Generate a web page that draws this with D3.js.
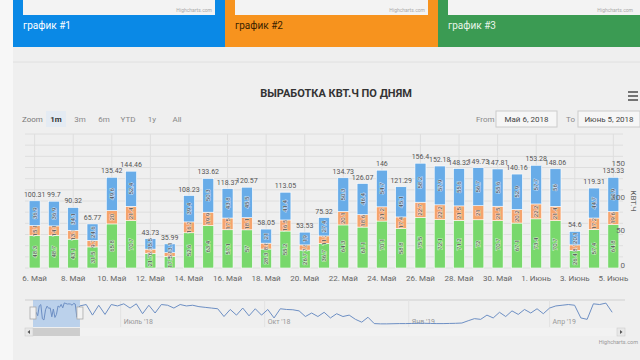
<!DOCTYPE html>
<html>
<head>
<meta charset="utf-8">
<script src="https://cdn.jsdelivr.net/npm/d3@7"></script>
<style>
body{margin:0;background:#f7f7f7;}
svg{display:block;font-family:"Liberation Sans Narrow","Roboto",sans-serif;}
</style>
</head>
<body>
<svg width="640" height="360"></svg>
<script>
var width = 640;
var height = 360;

// dates of the shown month
var days = ["6. Май","7. Май","8. Май","9. Май","10. Май","11. Май","12. Май","13. Май","14. Май","15. Май",
  "16. Май","17. Май","18. Май","19. Май","20. Май","21. Май","22. Май","23. Май","24. Май","25. Май",
  "26. Май","27. Май","28. Май","29. Май","30. Май","31. Май","1. Июнь","2. Июнь","3. Июнь","4. Июнь","5. Июнь"];

var green  = [48.3,48.7,43.1,31.5,65.8,70.7,21.7,17.5,52.6,63.4,57.1,57.0,28.3,55.2,26.7,36.7,64.3,61.1,70.1,58.8,
  75.5,72.1,71.2,72.0,70.7,67.1,73.4,70.7,26.4,57.4,64.8];
var orange = [15.1,14.1,13.1,9.7,20.0,21.4,6.5,5.4,16.2,19.9,17.5,18.1,8.8,16.5,7.8,11.2,20.1,18.6,21.2,17.4,
  22.7,22.2,21.5,21.0,21.5,20.2,22.2,21.4,8.1,17.2,19.6];
var blue   = [36.9,36.9,34.1,24.6,49.6,52.4,15.5,13.1,39.4,50.3,43.8,45.5,21.0,41.4,19.0,27.4,50.3,46.4,54.7,45.1,
  58.2,57.9,55.6,56.7,55.6,52.9,57.7,56.0,20.1,44.7,50.9];
var totals = ["100.31","99.7","90.32","65.77","135.42","144.46","43.73","35.99","108.23","133.62","118.37","120.57",
  "58.05","113.05","53.53","75.32","134.73","126.07","146","121.29","156.4","152.18","148.32","149.73","147.81",
  "140.16","153.28","148.06","54.6","119.31","135.33"];

var yTicks = [0,50,100,150];

// navigator: values after the selected month, one every 4 days
var navLater = [145,70,140,75,145,135,150,120,150,80,140,85,145,140,120,145,135,140,130,125,120,115,60,110,70,120,65,
  115,70,110,50,115,110,108,100,60,85,60,90,50,80,60,70,40,20,55,10,8,8,9,10,10,11,12,12,11,10,10,11,12,14,
  30,45,40,70,50,90,60,100,75,110,85,115,80,120,135,140,145,140,50,40,150,145,155,90];
var navLabels = ["Июль '18","Окт '18","Янв '19","Апр '19"];
var navTickDates = [new Date(2018,6,1), new Date(2018,9,1), new Date(2019,0,1), new Date(2019,3,1)];

var panelNames = ["график #1","график #2","график #3"];
var panelColors = ["#0a89e6","#f7931e","#3b9b53"];
var panelText = ["#ffffff","#3a2200","#e8f5e9"];

var zoomButtons = ["1m","3m","6m","YTD","1y","All"];

var keys = ["green","orange","blue"];
var colors = {green:"#78d86c", orange:"#f5a46c", blue:"#68ace8"};

var svg = d3.select("svg")
    .attr("width",width)
    .attr("height",height);

// top panels
svg.append("rect").attr("x",13).attr("y",47).attr("width",627).attr("height",313).attr("fill","#efefef");
svg.append("line").attr("x1",13).attr("x2",640).attr("y1",62).attr("y2",62).attr("stroke","#e0e0e0");

var px = [13,225,438];
var pw = [212,213,202];
var panels = svg.selectAll(".panel").data(panelNames).enter().append("g")
    .attr("transform",function(d,i){ return "translate(" + px[i] + ",0)"; });
panels.append("rect").attr("width",function(d,i){ return pw[i]; }).attr("height",47)
    .attr("fill",function(d,i){ return panelColors[i]; });
panels.append("rect").attr("x",10).attr("width",function(d,i){ return i==2 ? 200 : pw[i]-20; }).attr("height",15)
    .attr("fill","#f3f3f3");
panels.append("text").attr("x",function(d,i){ return i==2 ? 195 : pw[i]-13; }).attr("y",12)
    .attr("text-anchor","end").attr("font-size",5).attr("fill","#aaa").text("Highcharts.com");
panels.append("text").attr("x",10).attr("y",29).attr("font-size",10)
    .attr("fill",function(d,i){ return panelText[i]; }).text(function(d){ return d; });

// title and menu
svg.append("text").attr("x",336).attr("y",97).attr("text-anchor","middle")
    .attr("font-size",11).attr("font-weight","bold").attr("fill","#333")
    .text("ВЫРАБОТКА КВТ.Ч ПО ДНЯМ");
[92,96,100].forEach(function(yy){
  svg.append("line").attr("x1",628).attr("x2",638).attr("y1",yy).attr("y2",yy)
     .attr("stroke","#555").attr("stroke-width",1.6);
});

// range selector
svg.append("text").attr("x",22).attr("y",122).attr("font-size",8).attr("fill","#777").text("Zoom");
var bx = [56,80,104,128,152,177];
svg.append("rect").attr("x",46).attr("y",111).attr("width",20).attr("height",16).attr("fill","#e4ebf3");
svg.selectAll(".zb").data(zoomButtons).enter().append("text")
    .attr("x",function(d,i){ return bx[i]; }).attr("y",122).attr("text-anchor","middle")
    .attr("font-size",8).attr("font-weight",function(d,i){ return i==0 ? "bold" : "normal"; })
    .attr("fill",function(d,i){ return i==0 ? "#333" : "#888"; })
    .text(function(d){ return d; });

svg.append("text").attr("x",476).attr("y",122).attr("font-size",8).attr("fill","#888").text("From");
svg.append("rect").attr("x",496).attr("y",111).attr("width",61).attr("height",16).attr("fill","#f6f6f6").attr("stroke","#ccc");
svg.append("text").attr("x",526.5).attr("y",122).attr("text-anchor","middle").attr("font-size",8).attr("fill","#444").text("Май 6, 2018");
svg.append("text").attr("x",566).attr("y",122).attr("font-size",8).attr("fill","#888").text("To");
svg.append("rect").attr("x",578).attr("y",111).attr("width",62).attr("height",16).attr("fill","#f6f6f6").attr("stroke","#ccc");
svg.append("text").attr("x",609).attr("y",122).attr("text-anchor","middle").attr("font-size",8).attr("fill","#444").text("Июнь 5, 2018");

// main chart
var x = d3.scaleBand().domain(days).range([25,623]).paddingInner(0.43).paddingOuter(0.215);
var y = d3.scaleLinear().domain([0,200]).range([268,134]);

var g = svg.append("g");

g.selectAll(".hgrid").data(d3.range(0,13)).enter().append("line")
    .attr("x1",25).attr("x2",623)
    .attr("y1",function(d){ return y(d*200/12); })
    .attr("y2",function(d){ return y(d*200/12); })
    .attr("stroke","#dedede");

var labelled = days.filter(function(d,i){ return i%2==0; });
g.selectAll(".vgrid").data(labelled).enter().append("line")
    .attr("x1",function(d){ return x(d)+x.bandwidth()/2; })
    .attr("x2",function(d){ return x(d)+x.bandwidth()/2; })
    .attr("y1",134).attr("y2",268)
    .attr("stroke","#dedede");

var rows = days.map(function(d,i){
  return {day:d, green:green[i], orange:orange[i], blue:blue[i], total:totals[i]};
});
var stacked = d3.stack().keys(keys)(rows);

var layers = g.selectAll(".layer").data(stacked).enter().append("g")
    .attr("fill",function(d){ return colors[d.key]; });

layers.selectAll("rect").data(function(d){ return d; }).enter().append("rect")
    .attr("x",function(d){ return x(d.data.day); })
    .attr("width",x.bandwidth())
    .attr("y",function(d){ return y(d[1]); })
    .attr("height",function(d){ return y(d[0]) - y(d[1]); })
    .attr("stroke","#fff")
    .attr("stroke-width",0.6);

layers.each(function(layer){
  d3.select(this).selectAll("text").data(layer).enter().append("text")
    .attr("transform",function(d){
      var cx = x(d.data.day) + x.bandwidth()/2 + 2;
      var cy = (y(d[0]) + y(d[1]))/2;
      return "translate(" + cx + "," + cy + ") rotate(-90)";
    })
    .attr("text-anchor","middle")
    .attr("font-size",6)
    .attr("fill","#555")
    .attr("stroke","rgba(255,255,255,0.55)")
    .attr("stroke-width",1.3)
    .attr("paint-order","stroke")
    .text(function(d){ return d.data[layer.key]; });
});

g.selectAll(".total").data(rows).enter().append("text")
    .attr("x",function(d){ return x(d.day) + x.bandwidth()/2; })
    .attr("y",function(d){ return y(d.green + d.orange + d.blue) - 4; })
    .attr("text-anchor","middle")
    .attr("font-size",7)
    .attr("fill","#555")
    .text(function(d){ return d.total; });

g.selectAll(".xlab").data(labelled).enter().append("text")
    .attr("x",function(d){ return x(d) + x.bandwidth()/2; })
    .attr("y",281)
    .attr("text-anchor","middle")
    .attr("font-size",8)
    .attr("fill","#666")
    .text(function(d){ return d; });

g.selectAll(".ylab").data(yTicks).enter().append("text")
    .attr("x",625).attr("y",function(d){ return d==0 ? y(d) : y(d) - 1.5; })
    .attr("text-anchor","end")
    .attr("font-size",8)
    .attr("fill","#666")
    .text(function(d){ return d; });

svg.append("text").attr("transform","translate(631,201) rotate(90)")
    .attr("text-anchor","middle").attr("font-size",8).attr("fill","#666").text("КВТ.Ч");

// navigator
var start = new Date(2018,4,6);
var navData = [];
rows.forEach(function(d,i){
  navData.push({date:d3.timeDay.offset(start,i), v:d.green + d.orange + d.blue});
});
navLater.forEach(function(v,i){
  navData.push({date:d3.timeDay.offset(start,34 + i*4), v:v});
});

var navX = d3.scaleTime().domain([start, new Date(2019,4,16)]).range([33,620]);
var navY = d3.scaleLinear().domain([0,170]).range([325,301]);

svg.append("line").attr("x1",25).attr("x2",625).attr("y1",300).attr("y2",300).attr("stroke","#cfcfcf");

svg.selectAll(".navtick").data(navTickDates).enter().append("line")
    .attr("x1",function(d){ return navX(d); }).attr("x2",function(d){ return navX(d); })
    .attr("y1",300).attr("y2",327).attr("stroke","#e2e2e2");
svg.selectAll(".navlab").data(navTickDates).enter().append("text")
    .attr("x",function(d){ return navX(d) + 3; }).attr("y",324)
    .attr("font-size",7).attr("fill","#999")
    .text(function(d,i){ return navLabels[i]; });

var selEnd = d3.timeDay.offset(start,30);
svg.append("rect").attr("x",navX(start)).attr("y",300)
    .attr("width",navX(selEnd) - navX(start)).attr("height",27)
    .attr("fill","rgba(110,165,230,0.4)");

var navLine = d3.line().x(function(d){ return navX(d.date); }).y(function(d){ return navY(d.v); });
svg.append("path").datum(navData).attr("d",navLine)
    .attr("fill","none").attr("stroke","#6d8fc4").attr("stroke-width",1);

[navX(start), navX(selEnd)].forEach(function(hx){
  svg.append("rect").attr("x",hx-3).attr("y",307).attr("width",6).attr("height",12)
     .attr("fill","#f2f2f2").attr("stroke","#aaa").attr("stroke-width",0.8);
});

// scrollbar
svg.append("rect").attr("x",25).attr("y",328).attr("width",600).attr("height",8).attr("fill","#f2f2f2");
svg.append("rect").attr("x",navX(start)).attr("y",328)
    .attr("width",navX(selEnd) - navX(start)).attr("height",8).attr("fill","#cdcdcd");
[25,617].forEach(function(sx,i){
  svg.append("rect").attr("x",sx).attr("y",328).attr("width",8).attr("height",8)
     .attr("fill","#e8e8e8").attr("stroke","#ccc").attr("stroke-width",0.6);
  svg.append("path")
     .attr("d", i==0 ? "M" + (sx+5) + ",330 L" + (sx+2.5) + ",332 L" + (sx+5) + ",334Z"
                     : "M" + (sx+3) + ",330 L" + (sx+5.5) + ",332 L" + (sx+3) + ",334Z")
     .attr("fill","#555");
});

svg.append("text").attr("x",638).attr("y",344).attr("text-anchor","end")
    .attr("font-size",5.5).attr("fill","#999").text("Highcharts.com");
</script>
</body>
</html>
